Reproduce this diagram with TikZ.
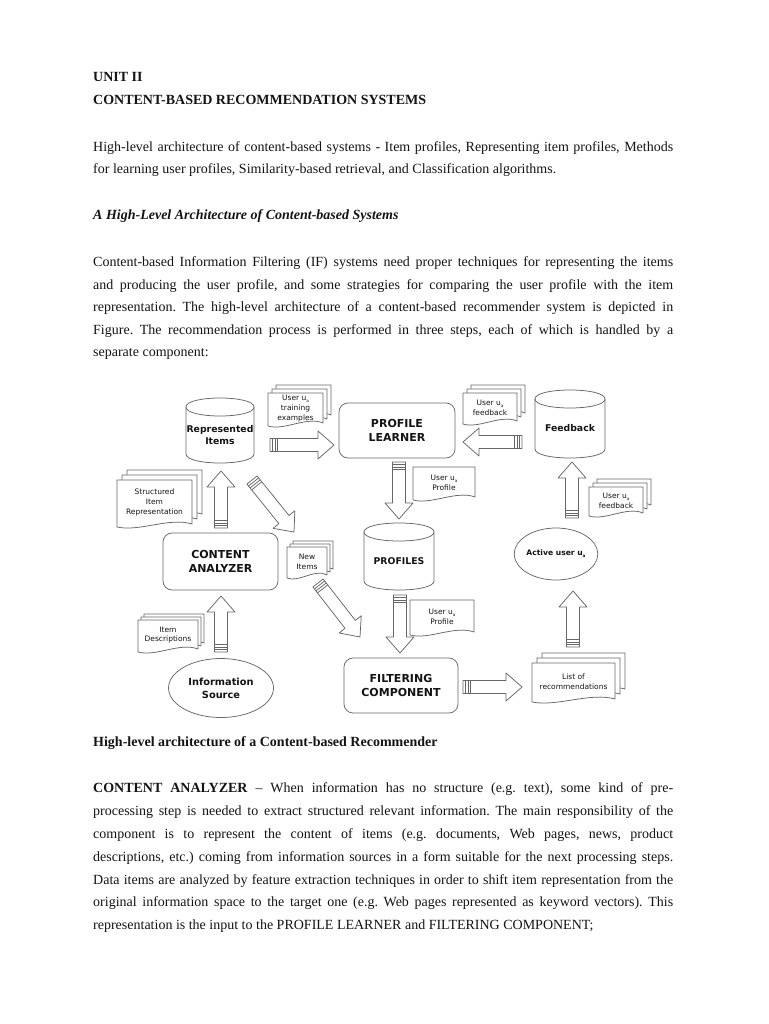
\documentclass[tikz,border=0pt]{standalone}
\usepackage{fontspec}
\setmainfont{Liberation Serif}
\newfontfamily\dgfont{DejaVu Sans}
\usetikzlibrary{calc,shapes.geometric}
\definecolor{ln}{gray}{0.40}
\definecolor{tx}{gray}{0.08}
\frenchspacing
\newcommand\ua{u\raisebox{-0.45ex}{\scalebox{0.55}{a}}}
% one sheet with wavy bottom: x y w h
\newcommand\sheet[4]{%
  \filldraw[shp] ({#1},{#2}) -- ({#1+#3},{#2}) -- ({#1+#3},{#2+#4-3})
   .. controls ({#1+0.7*(#3)},{#2+#4-10}) and ({#1+0.3*(#3)},{#2+#4+5}) .. ({#1},{#2+#4}) -- cycle;}
% stack of three sheets: name x y w h offset label
\newcommand\docstack[7]{%
  \sheet{#2+2*#6}{#3-2*#6}{#4}{#5}%
  \sheet{#2+#6}{#3-#6}{#4}{#5}%
  \sheet{#2}{#3}{#4}{#5}%
  \node[doclbl] (#1) at ({#2+#4/2},{#3+#5/2-1}) {#7};}
\newcommand\docone[6]{%
  \sheet{#2}{#3}{#4}{#5}%
  \node[doclbl] (#1) at ({#2+#4/2},{#3+#5/2-1}) {#6};}
% cylinder: name cx top bottom rx ry label
\newcommand\cyl[7]{%
  \filldraw[shp] ({#2-#5},{#3+#6}) -- ({#2-#5},{#4-#6})
     .. controls ({#2-#5},{#4+#6/3}) and ({#2+#5},{#4+#6/3}) .. ({#2+#5},{#4-#6})
     -- ({#2+#5},{#3+#6})
     .. controls ({#2+#5},{#3-#6/3}) and ({#2-#5},{#3-#6/3}) .. ({#2-#5},{#3+#6}) -- cycle;
  \draw[shp] ({#2-#5},{#3+#6}) .. controls ({#2-#5},{#3+#6*7/3}) and ({#2+#5},{#3+#6*7/3}) .. ({#2+#5},{#3+#6});
  \node[cyllbl] (#1) at (#2,{(#3+#4)/2+#6/2}) {#7};}
% hollow block arrow from coordinate #1 to coordinate #2
\newcommand\barrow[2]{%
  \coordinate (hb) at ($(#2)!16pt!(#1)$);
  \filldraw[shp] ($(#1)!6.5pt!90:(#2)$) -- ($(hb)!6.5pt!-90:(#1)$) -- ($(hb)!14pt!-90:(#1)$)
     -- (#2) -- ($(hb)!14pt!90:(#1)$) -- ($(hb)!6.5pt!90:(#1)$) -- ($(#1)!6.5pt!-90:(#2)$) -- cycle;
  \foreach \dd in {2.5,5,7.5}{%
    \coordinate (tt) at ($(#1)!\dd pt!(#2)$);
    \draw[shp] ($(tt)!6.5pt!90:(#2)$) -- ($(tt)!6.5pt!-90:(#2)$);}}
\newcommand\bline[3]{\node[txt] (#1) at (93,#2) {#3};}
\newcommand\jline[3]{\node[txt] (#1) at (93,#2) {\spaceskip=0.25em plus 0.4em minus 0.12em\hbox to 580pt{#3}};}
\begin{document}
\begin{tikzpicture}[x=1pt,y=-1pt,
  shp/.style={draw=ln, line width=0.75pt, fill=white, line join=round},
  txt/.style={anchor=base west, inner sep=0pt, text=tx, font=\fontsize{14}{16}\selectfont},
  box/.style={draw=ln, line width=0.75pt, rounded corners=9pt, fill=white, align=center,
     inner sep=0pt, text=tx, font=\dgfont\bfseries\fontsize{11}{14.5}\selectfont},
  ell/.style={ellipse, draw=ln, line width=0.75pt, fill=white, align=center, inner sep=0pt, text=tx},
  cyllbl/.style={align=center, inner sep=0pt, text=tx, font=\dgfont\bfseries\fontsize{9.3}{12}\selectfont},
  doclbl/.style={align=center, inner sep=0pt, text=tx, font=\dgfont\fontsize{7.5}{9.8}\selectfont}]
\fill[white] (0,0) rectangle (768,1024);

% ---------------- text above ----------------
\bline{t1}{81.5}{\textbf{UNIT II}}
\bline{t2}{104.5}{\textbf{CONTENT-BASED RECOMMENDATION SYSTEMS}}
\jline{t3}{151.5}{High-level architecture of content-based systems - Item profiles, Representing item profiles, Methods}
\bline{t4}{174}{for learning user profiles, Similarity-based retrieval, and Classification algorithms.}
\bline{t5}{219.5}{\textbf{\textit{A High-Level Architecture of Content-based Systems}}}
\jline{t6}{266.5}{Content-based Information Filtering (IF) systems need proper techniques for representing the items}
\jline{t7}{289}{and producing the user profile, and some strategies for comparing the user profile with the item}
\jline{t8}{311.5}{representation. The high-level architecture of a content-based recommender system is depicted in}
\jline{t9}{334}{Figure. The recommendation process is performed in three steps, each of which is handled by a}
\bline{t10}{356.5}{separate component:}

% ---------------- diagram ----------------
\cyl{RI}{220}{398}{463}{34}{9}{Represented\\Items}
\cyl{FB}{570}{390}{458}{35}{9}{Feedback}
\cyl{PR}{399}{523}{590}{35}{9}{PROFILES}

\node[box, minimum width=116pt, minimum height=55pt] (PL) at (397,430.5) {PROFILE\\LEARNER};
\node[box, minimum width=115pt, minimum height=57pt] (CA) at (220.5,561.5) {CONTENT\\ANALYZER};
\node[box, minimum width=114pt, minimum height=55pt] (FC) at (401,685.5) {FILTERING\\COMPONENT};

\node[ell, minimum width=60pt, minimum height=52pt, font=\dgfont\bfseries\fontsize{7.6}{9}\selectfont] (AU) at (556,554) {Active user \ua};
\node[ell, minimum width=105pt, minimum height=59pt, font=\dgfont\bfseries\fontsize{9.8}{13}\selectfont] (IS) at (221,688) {Information\\Source};

\docstack{D1}{268}{393}{55}{33}{4}{User \ua\\training\\examples}
\docstack{D2}{463}{393}{54}{31}{4}{User \ua\\feedback}
\docone{D3}{413}{467}{62}{33}{User \ua\\Profile}
\docstack{D4}{117}{480}{75}{47}{5}{Structured\\Item\\Representation}
\docstack{D5}{287}{547}{40}{31}{3}{New\\Items}
\docone{D6}{410}{600}{64}{35}{User \ua\\Profile}
\docstack{D7}{589}{487}{54}{29}{4}{User \ua\\feedback}
\docstack{D8}{138}{620}{60}{32}{3}{Item\\Descriptions}
\docstack{D9}{532}{663}{83}{39}{5}{List of\\recommendations}

% block arrows
\coordinate (a1s) at (270,445);  \coordinate (a1e) at (334,445);
\coordinate (a2s) at (522,442);  \coordinate (a2e) at (463,442);
\coordinate (a3s) at (399,462);  \coordinate (a3e) at (399,519);
\coordinate (a4s) at (400,595);  \coordinate (a4e) at (400,653);
\coordinate (a5s) at (221,528);  \coordinate (a5e) at (221,471);
\coordinate (a6s) at (221,652);  \coordinate (a6e) at (221,596);
\coordinate (a7s) at (572,518);  \coordinate (a7e) at (572,462);
\coordinate (a8s) at (573,647);  \coordinate (a8e) at (573,591);
\coordinate (a9s) at (463,687);  \coordinate (a9e) at (522,687);
\coordinate (a10s) at (252,480); \coordinate (a10e) at (294,532);
\coordinate (a11s) at (318,583); \coordinate (a11e) at (360,637);
\barrow{a1s}{a1e}
\barrow{a2s}{a2e}
\barrow{a3s}{a3e}
\barrow{a4s}{a4e}
\barrow{a5s}{a5e}
\barrow{a6s}{a6e}
\barrow{a7s}{a7e}
\barrow{a8s}{a8e}
\barrow{a9s}{a9e}
\barrow{a10s}{a10e}
\barrow{a11s}{a11e}

% ---------------- text below ----------------
\bline{t11}{746.5}{\textbf{High-level architecture of a Content-based Recommender}}
\jline{t12}{792.5}{\textbf{CONTENT ANALYZER} – When information has no structure (e.g. text), some kind of pre-}
\jline{t13}{815.5}{processing step is needed to extract structured relevant information. The main responsibility of the}
\jline{t14}{838.5}{component is to represent the content of items (e.g. documents, Web pages, news, product}
\jline{t15}{861.5}{descriptions, etc.) coming from information sources in a form suitable for the next processing steps.}
\jline{t16}{884}{Data items are analyzed by feature extraction techniques in order to shift item representation from the}
\jline{t17}{906.5}{original information space to the target one (e.g. Web pages represented as keyword vectors). This}
\bline{t18}{929.5}{representation is the input to the PROFILE LEARNER and FILTERING COMPONENT;}
\end{tikzpicture}
\end{document}
